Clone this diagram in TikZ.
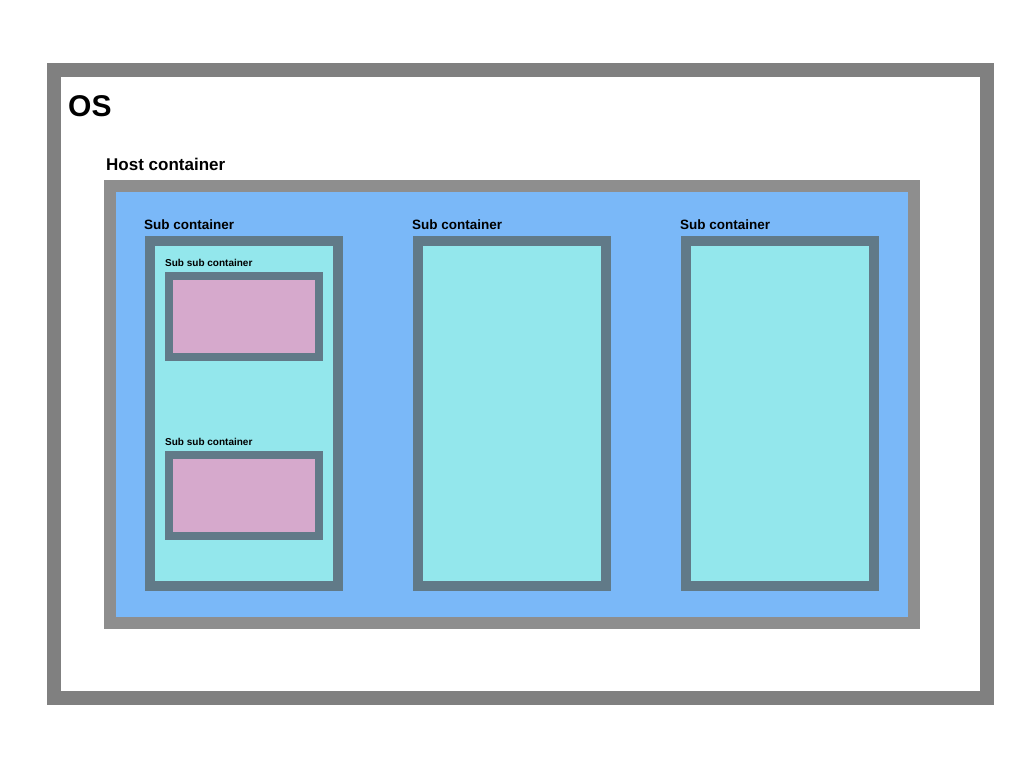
\documentclass[tikz,border=0pt]{standalone}
\usepackage{fontspec}
\setmainfont{Liberation Sans}
\definecolor{osgray}{HTML}{808080}
\definecolor{hostgray}{HTML}{8E8E8E}
\definecolor{hostblue}{HTML}{7AB8F8}
\definecolor{subedge}{HTML}{617A88}
\definecolor{subfill}{HTML}{93E7EC}
\definecolor{subsubfill}{HTML}{D6A9CC}
\begin{document}
\begin{tikzpicture}[x=1pt,y=-1pt,
    OSBox/.style = {draw=osgray, line width=14pt, fill=white},
    HostBox/.style = {draw=hostgray, line width=12pt, fill=hostblue},
    SubBox/.style = {draw=subedge, line width=10pt, fill=subfill},
    SubSubBox/.style = {draw=subedge, line width=8pt, fill=subsubfill},
    Title/.style = {anchor=base west, inner sep=0pt, font=\bfseries}]
  \useasboundingbox (0,0) rectangle (1024,768);
  % outer boxes
  \draw[OSBox] (54,70) rectangle (987,698);
  \node[Title, font=\bfseries\fontsize{30}{30}\selectfont] (OS) at (68,116) {OS};
  \node[Title, font=\bfseries\fontsize{17}{17}\selectfont] (Host) at (106,170) {Host container};
  \draw[HostBox] (110,186) rectangle (914,623);
  % sub containers
  \foreach \x [count=\i] in {150,418,686}{
    \draw[SubBox] (\x,241) rectangle (\x+188,586);
    \node[Title, font=\bfseries\fontsize{13.5}{13.5}\selectfont] (Sub\i) at (\x-6,229) {Sub container};
  }
  % sub sub containers
  \foreach \y [count=\j] in {276,455}{
    \node[Title, font=\bfseries\fontsize{10}{10}\selectfont] (SubSub\j) at (165,\y-10) {Sub sub container};
    \draw[SubSubBox] (169,\y) rectangle (319,\y+81);
  }
\end{tikzpicture}
\end{document}
